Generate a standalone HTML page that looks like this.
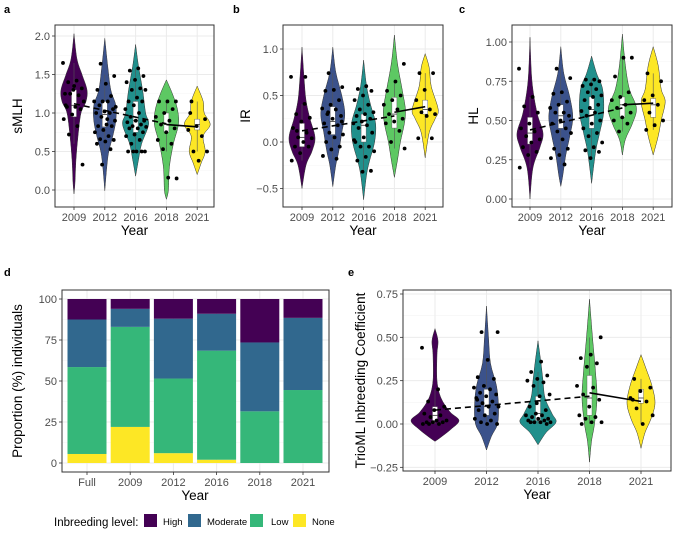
<!DOCTYPE html>
<html><head><meta charset="utf-8"><style>
html,body{margin:0;padding:0;background:#fff;}
svg{display:block;font-family:"Liberation Sans",Arial,sans-serif;}
.tick{font-size:11px;fill:#4D4D4D;}
.title{font-size:13.5px;fill:#000;}
.lbl{font-size:11px;font-weight:bold;fill:#000;}
.leg{font-size:9.5px;fill:#000;}
</style></head><body>
<svg id="fig" width="685" height="537" viewBox="0 0 685 537"></svg>
<script>
const years = ["2009","2012","2016","2018","2021"];
const violinColors = ["#440154","#3B528B","#21908C","#5DC863","#FDE725"];

// ---- Panel a: sMLH ----
const aTicks = [0,0.5,1,1.5,2];
const aShapes = [
 [[2.03,0],[1.7,3],[1.5,8],[1.3,13],[1.15,12],[1.0,7],[0.7,4],[0.4,2],[0.1,1],[-0.05,0]],
 [[1.97,0],[1.6,3],[1.3,6],[1.1,11],[0.9,11],[0.7,8],[0.5,4],[0.3,2],[-0.01,0]],
 [[1.89,0],[1.6,3],[1.3,7],[1.0,10],[0.85,13],[0.6,6],[0.4,3],[0.18,0]],
 [[1.43,0],[1.25,6],[1.05,11],[0.85,12],[0.6,7],[0.3,3],[0.0,2],[-0.12,0]],
 [[1.35,0],[1.15,6],[1.0,7],[0.85,13],[0.7,6],[0.5,8],[0.35,4],[0.2,0]]];
const aPoints = [
 [1.65,1.42,1.4,1.32,1.3,1.25,1.23,1.25,1.15,1.08,1.08,1.05,0.98,0.92,0.83,0.72,0.33,1.35,1.1],
 [1.64,1.48,1.38,1.3,1.22,1.15,1.15,1.15,1.1,1.05,1.02,1,1,0.95,0.9,0.85,0.83,0.83,0.78,0.75,0.7,0.66,0.65,0.63,0.6,0.53,0.33,1.08,0.92],
 [1.58,1.55,1.48,1.43,1.4,1.32,1.3,1.3,1.2,1.15,1.15,1.1,1.05,1.0,0.95,0.9,0.9,0.88,0.85,0.83,0.82,0.8,0.8,0.75,0.72,0.7,0.65,0.6,0.5,0.5,0.5,0.5,0.5],
 [1.15,1.15,1.15,1.05,1.0,0.95,0.9,0.85,0.8,0.75,0.65,0.6,0.53,0.15,0.16],
 [1.15,0.92,0.83,0.78,0.7,0.5,0.5,0.38,1.0]];
const aBoxes = [[0.6,0.95,1.1,1.3,1.65],[0.5,0.82,0.98,1.15,1.5],[0.5,0.75,0.9,1.15,1.58],[0.5,0.75,0.85,1.0,1.15],[0.5,0.78,0.85,0.92,1.15]];
const aDashed = [1.12,0.86];
const aSolid = [0.85,0.82];

// ---- Panel b: IR ----
const bTicks = [-0.5,0,0.5,1.0];
const bShapes = [
 [[1.02,0],[0.7,2],[0.45,4],[0.25,8],[0.05,13],[-0.1,10],[-0.25,4],[-0.5,0]],
 [[1.02,0],[0.75,3],[0.5,9],[0.3,12],[0.1,9],[-0.1,6],[-0.25,3],[-0.48,0]],
 [[0.88,0],[0.6,3],[0.4,7],[0.2,12],[0,11],[-0.2,6],[-0.35,3],[-0.62,0]],
 [[1.15,0],[0.85,3],[0.55,8],[0.35,11],[0.2,10],[0,6],[-0.2,3],[-0.38,0]],
 [[0.95,0],[0.8,4],[0.6,6],[0.35,13],[0.25,10],[0.1,4],[-0.17,0]]];
const bPoints = [
 [0.7,0.41,0.3,0.26,0.22,0.15,0.1,0.05,0.04,0,-0.05,-0.05,-0.12,-0.2,0.7,0.12],
 [0.74,0.59,0.56,0.55,0.45,0.4,0.36,0.35,0.3,0.28,0.25,0.2,0.18,0.1,0.08,0.05,0,-0.05,-0.08,-0.15,-0.18,0.32,0.22],
 [0.6,0.57,0.55,0.5,0.45,0.4,0.35,0.32,0.3,0.28,0.25,0.22,0.2,0.18,0.15,0.1,0.05,0,-0.05,-0.05,-0.1,-0.16,-0.2,-0.31,-0.32,0.02],
 [0.84,0.65,0.55,0.5,0.45,0.4,0.35,0.3,0.25,0.22,0.2,0.12,0,-0.07],
 [0.74,0.74,0.56,0.45,0.35,0.32,0.3,0.28,0.04,0.04]];
const bBoxes = [[-0.2,-0.05,0.05,0.2,0.41],[-0.18,0.08,0.22,0.38,0.74],[-0.32,0,0.18,0.3,0.6],[-0.07,0.15,0.3,0.48,0.65],[0.04,0.3,0.35,0.45,0.74]];
const bDashed = [0.12,0.28];
const bSolid = [0.32,0.38];

// ---- Panel c: HL ----
const cTicks = [0,0.25,0.5,0.75,1.0];
const cTickLabels = ["0.00","0.25","0.50","0.75","1.00"];
const cShapes = [
 [[1.03,0],[0.75,2],[0.55,7],[0.42,13],[0.33,10],[0.2,3],[0,0]],
 [[0.97,0],[0.8,3],[0.65,9],[0.52,12],[0.4,9],[0.28,5],[0.15,2],[0.08,0]],
 [[0.91,0],[0.8,5],[0.7,11],[0.55,12],[0.42,8],[0.3,4],[0.1,0]],
 [[1.05,0],[0.85,3],[0.7,7],[0.58,14],[0.48,10],[0.38,3],[0.28,0]],
 [[0.97,0],[0.85,5],[0.7,8],[0.62,12],[0.5,8],[0.4,5],[0.28,0]]];
const cPoints = [
 [0.83,0.65,0.59,0.55,0.48,0.45,0.43,0.4,0.38,0.36,0.33,0.3,0.28,0.2],
 [0.83,0.77,0.68,0.67,0.62,0.6,0.58,0.55,0.55,0.53,0.5,0.48,0.45,0.43,0.42,0.38,0.32,0.32,0.28,0.26,0.22],
 [0.76,0.76,0.75,0.73,0.72,0.7,0.68,0.66,0.65,0.63,0.6,0.58,0.56,0.55,0.53,0.5,0.48,0.45,0.42,0.4,0.36,0.33,0.31,0.3,0.26],
 [0.9,0.9,0.78,0.68,0.65,0.63,0.6,0.58,0.55,0.52,0.5,0.48,0.43],
 [0.8,0.75,0.66,0.63,0.6,0.55,0.5,0.47,0.44]];
const cBoxes = [[0.2,0.35,0.42,0.52,0.65],[0.22,0.45,0.53,0.6,0.83],[0.26,0.45,0.57,0.65,0.76],[0.43,0.52,0.6,0.65,0.9],[0.44,0.52,0.6,0.64,0.8]];
const cDashed = [0.44,0.58];
const cSolid = [0.60,0.61];

// ---- Panel e: TrioML ----
const eTicks = [-0.25,0,0.25,0.5,0.75];
const eTickLabels = ["\u22120.25","0.00","0.25","0.50","0.75"];
const eShapes = [
 [[0.55,0],[0.48,3],[0.4,2],[0.25,2],[0.15,6],[0.07,15],[0.02,24],[-0.03,16],[-0.08,5],[-0.1,0]],
 [[0.68,0],[0.5,2],[0.35,4],[0.22,10],[0.1,12],[0,11],[-0.07,5],[-0.15,0]],
 [[0.48,0],[0.35,3],[0.25,5],[0.15,7],[0.06,14],[0.01,18],[-0.05,8],[-0.12,0]],
 [[0.72,0],[0.5,3],[0.3,6],[0.15,7.5],[0,5],[-0.1,2],[-0.22,0]],
 [[0.4,0],[0.32,5],[0.22,11],[0.12,14],[0.03,10],[-0.05,4],[-0.14,0]]];
const ePoints = [
 [0.44,0.2,0.13,0.1,0.08,0.06,0.05,0.04,0.02,0.02,0.01,0.01,0.01,0,0,0],
 [0.53,0.53,0.37,0.27,0.26,0.22,0.21,0.2,0.18,0.17,0.16,0.15,0.13,0.12,0.1,0.1,0.08,0.06,0.05,0.03,0.02,0.01,0,0,0.14],
 [0.36,0.3,0.28,0.26,0.25,0.24,0.22,0.17,0.16,0.1,0.08,0.06,0.05,0.05,0.04,0.03,0.03,0.02,0.02,0.01,0.01,0.01,0.01,0,0.12],
 [0.5,0.4,0.38,0.35,0.33,0.22,0.21,0.17,0.14,0.1,0.05,0.04,0.03,0.01,0.01,0],
 [0.26,0.21,0.19,0.15,0.13,0.09,0.05,0,0.14]];
const eBoxes = [[0,0.02,0.05,0.1,0.2],[0,0.05,0.1,0.2,0.37],[0,0.02,0.06,0.16,0.3],[0,0.05,0.15,0.28,0.5],[0,0.12,0.15,0.2,0.26]];
const eDashed = [0.08,0.16];
const eSolid = [0.18,0.13];

// ---- Panel d: stacked bars ----
const dCategories = ["Full","2009","2012","2016","2018","2021"];
const dNone = [5.5,22,6,2,0,0];
const dLow = [53,61,45.5,66.5,31.5,44.5];
const dModerate = [29,11,36.5,22.5,42,44];
const dHigh = [12.5,6,12,9,26.5,11.5];
const dTicks = [0,25,50,75,100];
const levelNames = ["High","Moderate","Low","None"];
const levelColors = ["#440154","#31688E","#35B779","#FDE725"];

const NS="http://www.w3.org/2000/svg";
const svg=document.getElementById('fig');
function mk(tag,attrs,parent){const e=document.createElementNS(NS,tag);for(const k in attrs)e.setAttribute(k,attrs[k]);(parent||svg).appendChild(e);return e;}
function txt(s,attrs,parent){const e=mk('text',attrs,parent);e.textContent=s;return e;}

function smoothPath(pts){
  let d=`M${pts[0][0]},${pts[0][1]}`;
  for(let i=0;i<pts.length-1;i++){
    const p0=pts[Math.max(0,i-1)],p1=pts[i],p2=pts[i+1],p3=pts[Math.min(pts.length-1,i+2)];
    const c1=[p1[0]+(p2[0]-p0[0])/6,p1[1]+(p2[1]-p0[1])/6];
    const c2=[p2[0]-(p3[0]-p1[0])/6,p2[1]-(p3[1]-p1[1])/6];
    d+=`C${c1[0]},${c1[1]} ${c2[0]},${c2[1]} ${p2[0]},${p2[1]}`;
  }
  return d;
}

function violinPanel(cfg){
  const {name,x0,x1,y0,y1,cats,yv0,py0,yv1,py1,ticks,tickLabels,shapes,points,boxes,dashed,solid,ytitle,ytitleX,jit,minor}=cfg;
  const g=mk('g',{});
  
  
  const Y=v=>py0+(v-yv0)*(py1-py0)/(yv1-yv0);
  const X=i=>cats[0]+i*(cats[1]-cats[0]);
  minor.forEach(v=>{mk('line',{x1:x0,x2:x1,y1:Y(v),y2:Y(v),stroke:'#F4F4F4','stroke-width':0.6},g);});
  ticks.forEach(v=>{mk('line',{x1:x0,x2:x1,y1:Y(v),y2:Y(v),stroke:'#EBEBEB','stroke-width':1},g);});
  years.forEach((y,i)=>{mk('line',{x1:X(i),x2:X(i),y1:y0,y2:y1,stroke:'#EBEBEB','stroke-width':1},g);});
  shapes.forEach((sh,i)=>{
    const cx=X(i);
    const right=sh.map(k=>[cx+k[1],Y(k[0])]);
    const left=sh.slice().reverse().map(k=>[cx-k[1],Y(k[0])]);
    const d=smoothPath(right)+smoothPath(left).replace('M','L')+'Z';
    const p=mk('path',{d:d,fill:violinColors[i],stroke:'#333','stroke-width':0.5},g);
    
    
  });
  boxes.forEach((b,i)=>{
    const cx=X(i);
    mk('line',{x1:cx,x2:cx,y1:Y(b[0]),y2:Y(b[4]),stroke:'#555','stroke-width':0.6},g);
    const r=mk('rect',{x:cx-2.5,y:Y(b[3]),width:5,height:Y(b[1])-Y(b[3]),fill:'#fff',stroke:'#555','stroke-width':0.4},g);
    
    
    mk('line',{x1:cx-2.5,x2:cx+2.5,y1:Y(b[2]),y2:Y(b[2]),stroke:'#333','stroke-width':0.8},g);
  });
  points.forEach((arr,i)=>{
    arr.forEach((v,j)=>{
      const off=(((j*0.618+i*0.31)%1)-0.5)*2*jit;
      const c=mk('circle',{cx:X(i)+off,cy:Y(v),r:1.9,fill:'#000'},g);
      
      
    });
  });
  const dl=mk('line',{x1:X(0),y1:Y(dashed[0]),x2:X(3),y2:Y(dashed[1]),stroke:'#000','stroke-width':1.6,'stroke-dasharray':'6,4'},g);
  
  
  const sl=mk('line',{x1:X(3),y1:Y(solid[0]),x2:X(4),y2:Y(solid[1]),stroke:'#000','stroke-width':1.6},g);
  
  
  mk('rect',{x:x0,y:y0,width:x1-x0,height:y1-y0,fill:'none',stroke:'#333','stroke-width':1},g);
  ticks.forEach((v,k)=>{
    mk('line',{x1:x0-3,x2:x0,y1:Y(v),y2:Y(v),stroke:'#333','stroke-width':0.8},g);
    const t=txt(tickLabels[k],{x:x0-5,y:Y(v)+4,'text-anchor':'end',class:'tick'},g);
    
    
  });
  years.forEach((y,i)=>{
    mk('line',{x1:X(i),x2:X(i),y1:y1,y2:y1+3,stroke:'#333','stroke-width':0.8},g);
    const t=txt(y,{x:X(i),y:y1+14,'text-anchor':'middle',class:'tick'},g);
    
    
  });
  const xt=txt('Year',{x:(x0+x1)/2,y:y1+28,'text-anchor':'middle',class:'title'},g);
  
  
  const yt=txt(ytitle,{x:0,y:0,'text-anchor':'middle',class:'title',transform:`translate(${ytitleX},${(y0+y1)/2}) rotate(-90)`},g);
  
  
}

violinPanel({name:'smlh',x0:55,x1:214,y0:25,y1:207,cats:[74,104.8],yv0:0,py0:190,yv1:2,py1:36,
  ticks:aTicks,tickLabels:["0.0","0.5","1.0","1.5","2.0"],shapes:aShapes,points:aPoints,boxes:aBoxes,
  dashed:aDashed,solid:aSolid,ytitle:'sMLH',ytitleX:22,jit:11,minor:[0.25,0.75,1.25,1.75]});
violinPanel({name:'ir',x0:283,x1:443,y0:25,y1:207,cats:[302,332.8],yv0:0,py0:142,yv1:1,py1:49,
  ticks:bTicks,tickLabels:["\u22120.5","0.0","0.5","1.0"],shapes:bShapes,points:bPoints,boxes:bBoxes,
  dashed:bDashed,solid:bSolid,ytitle:'IR',ytitleX:250,jit:11,minor:[-0.25,0.25,0.75]});
violinPanel({name:'hl',x0:512,x1:672,y0:25,y1:207,cats:[530,560.8],yv0:0,py0:199,yv1:1,py1:42,
  ticks:cTicks,tickLabels:cTickLabels,shapes:cShapes,points:cPoints,boxes:cBoxes,
  dashed:cDashed,solid:cSolid,ytitle:'HL',ytitleX:478,jit:11,minor:[0.125,0.375,0.625,0.875]});
violinPanel({name:'trioml',x0:403,x1:671,y0:290,y1:471,cats:[435,486.5],yv0:0,py0:424,yv1:0.75,py1:294,
  ticks:eTicks,tickLabels:eTickLabels,shapes:eShapes,points:ePoints,boxes:eBoxes,
  dashed:eDashed,solid:eSolid,ytitle:'TrioML Inbreeding Coefficient',ytitleX:365,jit:13,minor:[-0.125,0.125,0.375,0.625]});

(function(){
  const x0=62,x1=329,y0=290,y1=472;
  const g=mk('g',{});
  
  
  const Y=v=>463+(v)*(299-463)/100;
  const X=i=>87+i*43.2;
  [12.5,37.5,62.5,87.5].forEach(v=>mk('line',{x1:x0,x2:x1,y1:Y(v),y2:Y(v),stroke:'#F4F4F4','stroke-width':0.6},g));
  dTicks.forEach(v=>mk('line',{x1:x0,x2:x1,y1:Y(v),y2:Y(v),stroke:'#EBEBEB','stroke-width':1},g));
  dCategories.forEach((c,i)=>mk('line',{x1:X(i),x2:X(i),y1:y0,y2:y1,stroke:'#EBEBEB','stroke-width':1},g));
  const series=[dNone,dLow,dModerate,dHigh];
  const sColors=["#FDE725","#35B779","#31688E","#440154"];
  const sNames=["none","low","moderate","high"];
  dCategories.forEach((c,i)=>{
    let base=0;
    series.forEach((s,k)=>{
      const v=s[i];
      if(v>0){
        const r=mk('rect',{x:X(i)-19.5,y:Y(base+v),width:39,height:Y(base)-Y(base+v),fill:sColors[k]},g);
        
        
      }
      base+=v;
    });
  });
  mk('rect',{x:x0,y:y0,width:x1-x0,height:y1-y0,fill:'none',stroke:'#333','stroke-width':1},g);
  dTicks.forEach(v=>{
    mk('line',{x1:x0-3,x2:x0,y1:Y(v),y2:Y(v),stroke:'#333','stroke-width':0.8},g);
    const t=txt(String(v),{x:x0-5,y:Y(v)+4,'text-anchor':'end',class:'tick'},g);
    
    
  });
  dCategories.forEach((c,i)=>{
    mk('line',{x1:X(i),x2:X(i),y1:y1,y2:y1+3,stroke:'#333','stroke-width':0.8},g);
    const t=txt(c,{x:X(i),y:y1+14,'text-anchor':'middle',class:'tick'},g);
    
    
  });
  const xt=txt('Year',{x:195,y:500,'text-anchor':'middle',class:'title'},g);
  
  
  const yt=txt('Proportion (%) individuals',{x:0,y:0,'text-anchor':'middle',class:'title',transform:'translate(22,381) rotate(-90)'},g);
  
  
})();

(function(){
  const g=mk('g',{});
  
  
  const lt=txt('Inbreeding level:',{x:54,y:526,class:'leg',style:'font-size:11.5px'},g);
  
  
  const boxX=[144,188,250,293], textX=[163,207,271,312];
  levelNames.forEach((n,i)=>{
    const r=mk('rect',{x:boxX[i],y:514,width:13,height:13,fill:levelColors[i]},g);
    
    
    const t=txt(n,{x:textX[i],y:525,class:'leg'},g);
    
    
  });
})();

[["a",4,13],["b",233,13],["c",459,13],["d",4,276],["e",348,276]].forEach(l=>{
  const t=txt(l[0],{x:l[1],y:l[2],class:'lbl'});
  
  
});
</script>
</body></html>
